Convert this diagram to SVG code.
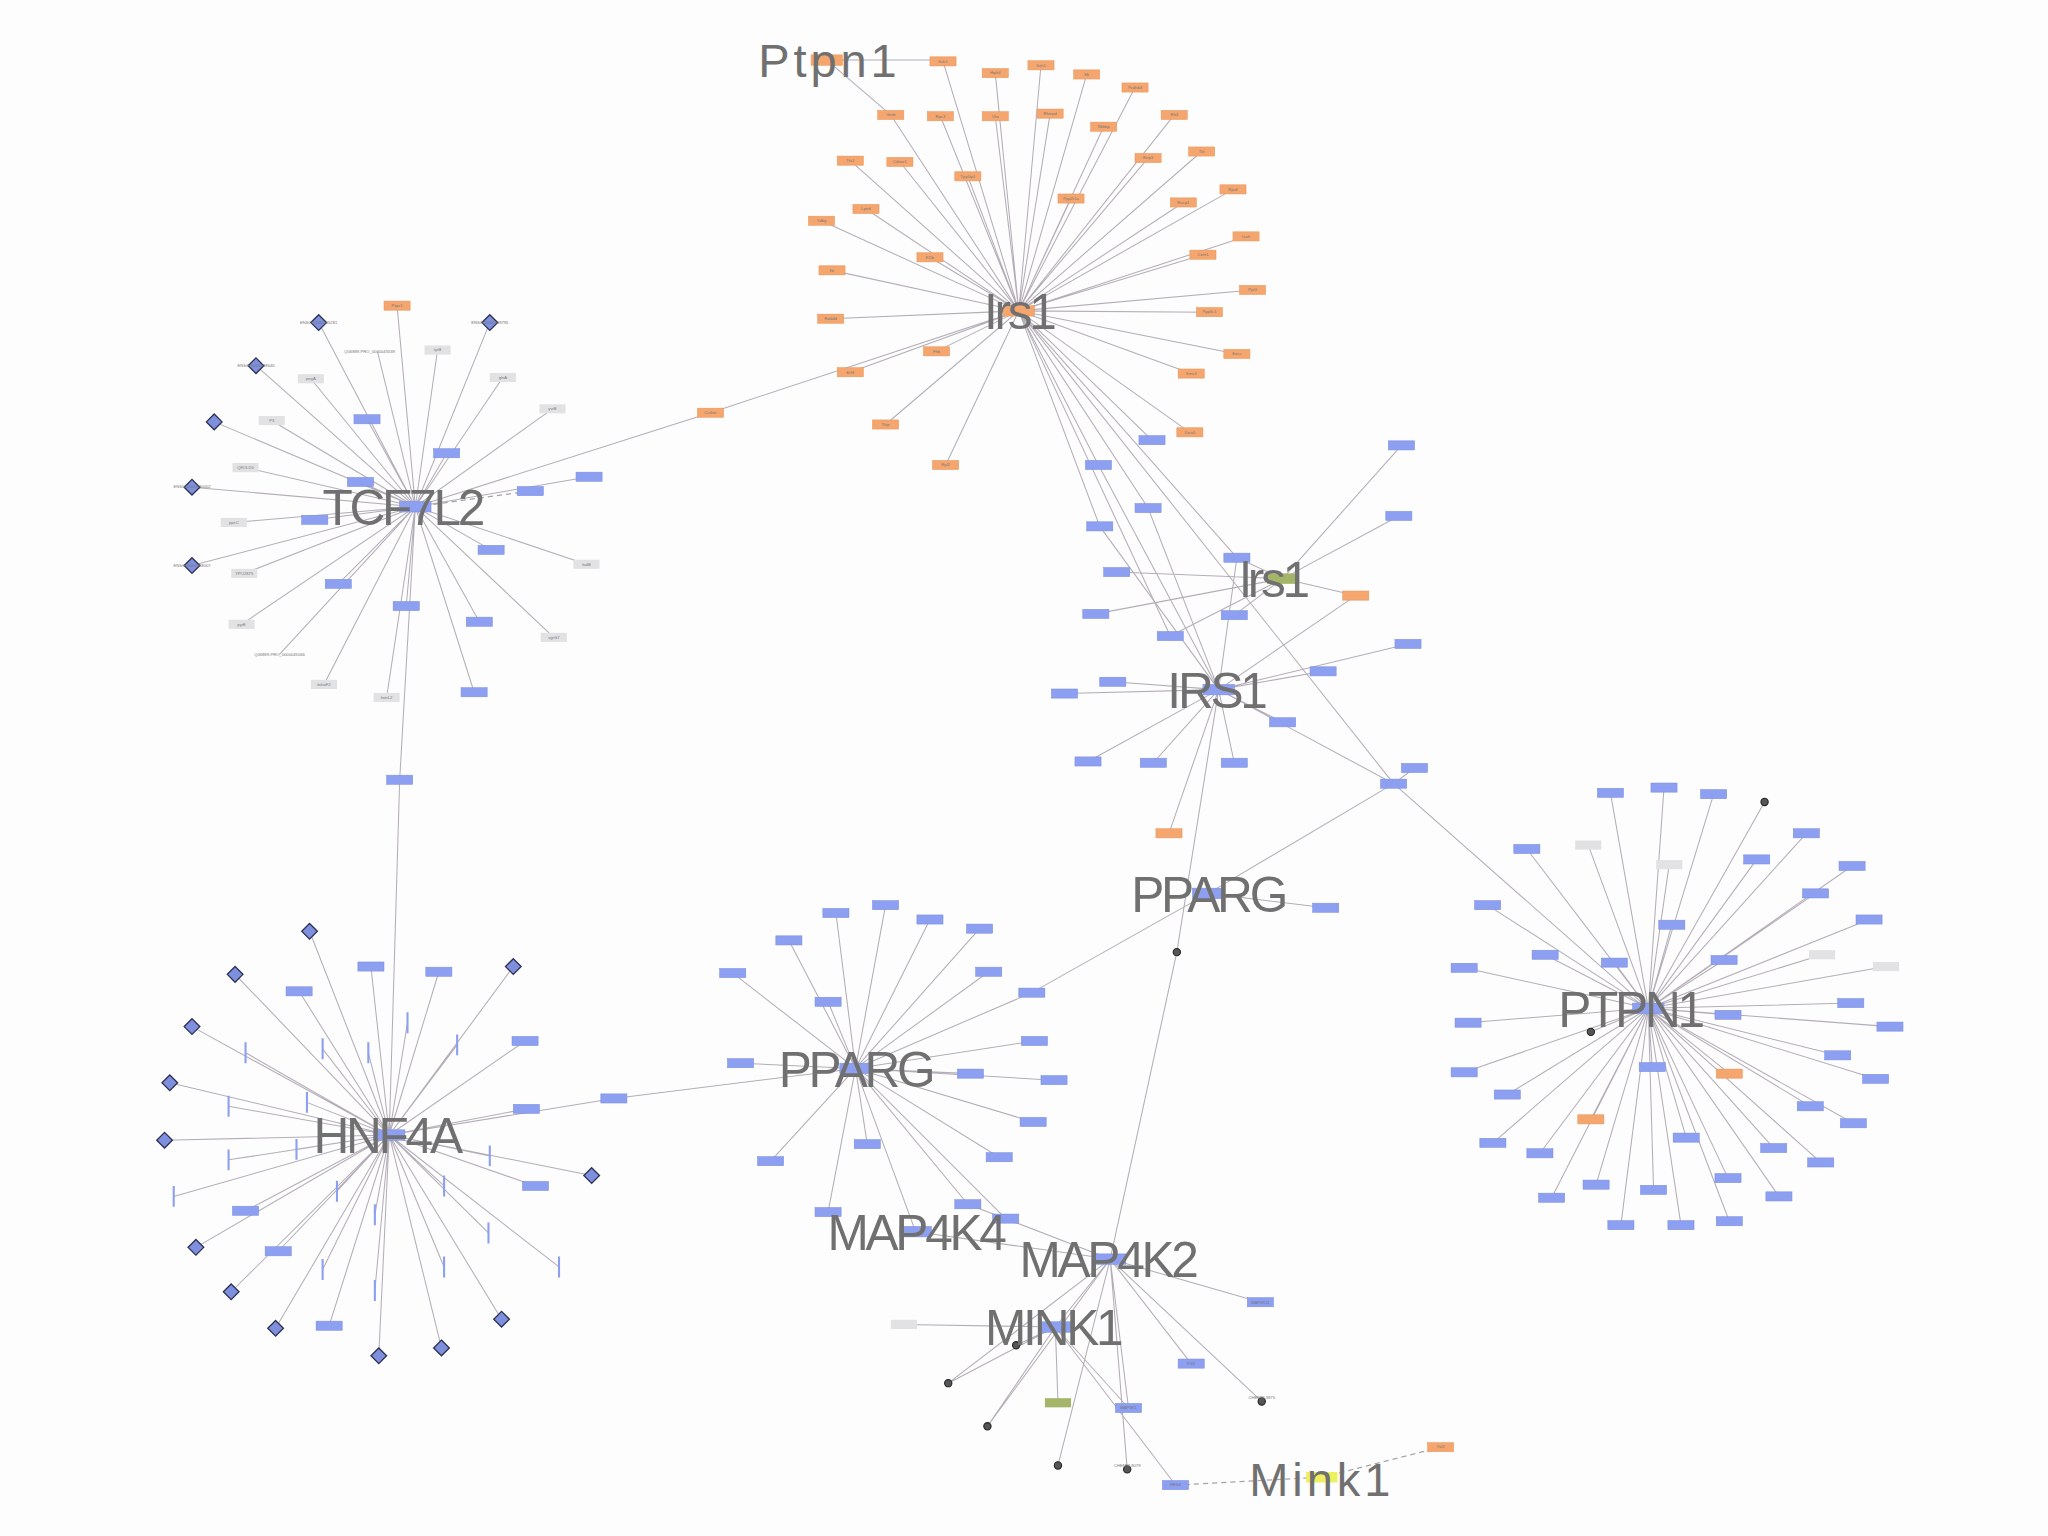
<svg xmlns="http://www.w3.org/2000/svg" width="2048" height="1536" viewBox="0 0 2048 1536">
<style>
.e{stroke:#b4adb8;stroke-width:.8;fill:none}
.d{stroke:#a9a3ad;stroke-width:1;stroke-dasharray:4 3;fill:none}
.o{fill:#f4a66e;stroke:#e8955a;stroke-width:.4}
.b{fill:#8c9ff0;stroke:#7a8ee0;stroke-width:.4}
.g{fill:#e2e2e4}
.gr{fill:#a4b468}
.v{stroke:#8c9ff0;stroke-width:1.6}
.dm{fill:#7e8fde;stroke:#2c3050;stroke-width:1}
.c{fill:#555;stroke:#222;stroke-width:.8}
text{font-family:"Liberation Sans",Arial,sans-serif;fill:#777}
.s{font-size:3.2px;text-anchor:middle}
.h{font-size:38px;text-anchor:middle;fill:#707070;letter-spacing:-2.5px}
.hw{font-size:36px;text-anchor:middle;fill:#707070;letter-spacing:3px}
</style>
<rect width="2048" height="1536" fill="#fdfdfd"/>
<g transform="scale(1.30612)">
<g id="connectors">
<path class="e" d="M633 46H722M633 46L682 88"/>
<path class="e" d="M780 238L722 47M780 238L762 56M780 238L797 50M780 238L832 57M780 238L869 67M780 238L899 88M780 238L920 116M780 238L944 145M780 238L954 181M780 238L959 222M780 238L926 239M780 238L947 271M780 238L912 286M780 238L911 331M780 238L682 88M780 238L720 89M780 238L762 89M780 238L804 87M780 238L845 97M780 238L879 121M780 238L906 155M780 238L921 195M780 238L820 152M780 238L741 135M780 238L689 124M780 238L651 123M780 238L663 160M780 238L629 169M780 238L712 197M780 238L637 207M780 238L636 244M780 238L717 269M780 238L651 285M780 238L678 325M780 238L724 356M780 238L544 316M780 238L882 337M780 238L841 356M780 238L879 389M780 238L842 403M780 238L947 427M780 238L1067 600M780 238L896 487"/>
<path class="e" d="M544 316L318 388M318 388L244 247M318 388L375 247M318 388L196 280M318 388L164 323M318 388L147 373M318 388L147 433M318 388L289 269M318 388L335 268M318 388L385 289M318 388L238 290M318 388L208 322M318 388L423 313M318 388L188 358M318 388L179 400M318 388L187 439M318 388L185 478M318 388L214 501M318 388L248 524M318 388L296 534M318 388L449 432M318 388L424 488M318 388L304 234M318 388L281 321M318 388L342 347M318 388L276 369M318 388L451 365M318 388L241 398M318 388L376 421M318 388L259 447M318 388L311 464M318 388L367 476M318 388L363 530M318 388L306 597L298 869"/>
<path class="d" d="M318 388L406 376"/>
<path class="e" d="M982 443L1073 341M982 443L1071 395M982 443L947 427M982 443L855 438M982 443L839 470M982 443L896 487M982 443L945 471M982 443L1038 456M933 528L852 522M933 528L815 531M933 528L1013 514M933 528L1078 493M933 528L982 553M933 528L833 583M933 528L883 584M933 528L945 584M933 528L895 638M933 528L1067 600M933 528L841 356M933 528L879 389M933 528L842 403M933 528L947 427M933 528L1038 456M1067 600L1083 588M1067 600L1262 772M1067 600L925 684L790 760L655 818M925 684L1015 695M933 528L901 729L850 964"/>
<path class="e" d="M1262 772L1233 607M1262 772L1274 603M1262 772L1312 608M1262 772L1351 614M1262 772L1383 638M1262 772L1345 658M1262 772L1418 663M1262 772L1390 684M1262 772L1431 704M1262 772L1169 650M1262 772L1216 647M1262 772L1278 662M1262 772L1139 693M1262 772L1280 708M1262 772L1183 731M1262 772L1236 737M1262 772L1320 735M1262 772L1395 731M1262 772L1444 740M1262 772L1121 741M1262 772L1323 777M1262 772L1417 768M1262 772L1447 786M1262 772L1124 783M1262 772L1218 790M1262 772L1407 808M1262 772L1121 821M1262 772L1154 838M1262 772L1265 817M1262 772L1324 822M1262 772L1436 826M1262 772L1386 847M1262 772L1419 860M1262 772L1143 875M1262 772L1179 883M1262 772L1218 857M1262 772L1291 871M1262 772L1358 879M1262 772L1394 890M1262 772L1323 902M1262 772L1222 907M1262 772L1266 911M1262 772L1188 917M1262 772L1362 916M1262 772L1241 938M1262 772L1287 938M1262 772L1324 935"/>
<path class="e" d="M298 869L237 713M298 869L180 746M298 869L147 786M298 869L130 829M298 869L126 873M298 869L150 955M298 869L177 989M298 869L211 1017M298 869L290 1038M298 869L338 1032M298 869L384 1010M298 869L453 900M298 869L393 740M298 869L284 740M298 869L229 759M298 869L336 744M298 869L402 797M298 869L403 849M298 869L410 908M298 869L188 927M298 869L213 958M298 869L252 1015M298 869L470 841L655 818M298 869L312 783M298 869L282 806M298 869L247 803M298 869L188 806M298 869L350 800M298 869L235 844M298 869L175 847M298 869L227 880M298 869L175 888M298 869L133 916M298 869L258 912M298 869L287 930M298 869L340 908M298 869L375 885M298 869L374 944M298 869L340 970M298 869L287 988M298 869L247 972M298 869L428 970"/>
<path class="e" d="M655 818L640 699M655 818L678 693M655 818L712 704M655 818L750 711M655 818L604 720M655 818L561 745M655 818L634 767M655 818L757 744M655 818L792 797M655 818L567 814M655 818L743 822M655 818L807 827M655 818L791 859M655 818L765 886M655 818L590 889M655 818L664 876M655 818L634 928M655 818L741 922M655 818L770 933M655 818L701 943M701 943L850 964"/>
<path class="e" d="M850 964L965 997M850 964L912 1044M850 964L966 1073M850 964L864 1078M850 964L863 1125M808 1016L900 1137M850 964L810 1122M850 964L770 933M850 964L741 922M850 964L808 1016M808 1016L692 1014M808 1016L778 1030M808 1016L726 1059M808 1016L756 1092M808 1016L810 1074M808 1016L864 1078M850 964L756 1092M850 964L726 1059"/>
<path class="d" d="M900 1137L1012 1131L1103 1108"/>
</g>
<g id="leaves">
<g class="o"><rect x="712" y="43.5" width="20" height="7"/><rect x="752" y="52.5" width="20" height="7"/><rect x="787" y="46.5" width="20" height="7"/><rect x="822" y="53.5" width="20" height="7"/><rect x="859" y="63.5" width="20" height="7"/><rect x="889" y="84.5" width="20" height="7"/><rect x="910" y="112.5" width="20" height="7"/><rect x="934" y="141.5" width="20" height="7"/><rect x="944" y="177.5" width="20" height="7"/><rect x="949" y="218.5" width="20" height="7"/><rect x="916" y="235.5" width="20" height="7"/><rect x="937" y="267.5" width="20" height="7"/><rect x="902" y="282.5" width="20" height="7"/><rect x="901" y="327.5" width="20" height="7"/><rect x="672" y="84.5" width="20" height="7"/><rect x="710" y="85.5" width="20" height="7"/><rect x="752" y="85.5" width="20" height="7"/><rect x="794" y="83.5" width="20" height="7"/><rect x="835" y="93.5" width="20" height="7"/><rect x="869" y="117.5" width="20" height="7"/><rect x="896" y="151.5" width="20" height="7"/><rect x="911" y="191.5" width="20" height="7"/><rect x="810" y="148.5" width="20" height="7"/><rect x="731" y="131.5" width="20" height="7"/><rect x="679" y="120.5" width="20" height="7"/><rect x="641" y="119.5" width="20" height="7"/><rect x="653" y="156.5" width="20" height="7"/><rect x="619" y="165.5" width="20" height="7"/><rect x="702" y="193.5" width="20" height="7"/><rect x="627" y="203.5" width="20" height="7"/><rect x="626" y="240.5" width="20" height="7"/><rect x="707" y="265.5" width="20" height="7"/><rect x="641" y="281.5" width="20" height="7"/><rect x="668" y="321.5" width="20" height="7"/><rect x="714" y="352.5" width="20" height="7"/><rect x="534" y="312.5" width="20" height="7"/><rect x="294" y="230.5" width="20" height="7"/><rect x="1028" y="452.5" width="20" height="7"/><rect x="885" y="634.5" width="20" height="7"/><rect x="1314" y="818.5" width="20" height="7"/><rect x="1208" y="853.5" width="20" height="7"/><rect x="1093" y="1104.5" width="20" height="7"/></g>
<g class="g"><rect x="325" y="264.5" width="20" height="7"/><rect x="375" y="285.5" width="20" height="7"/><rect x="228" y="286.5" width="20" height="7"/><rect x="198" y="318.5" width="20" height="7"/><rect x="413" y="309.5" width="20" height="7"/><rect x="178" y="354.5" width="20" height="7"/><rect x="169" y="396.5" width="20" height="7"/><rect x="177" y="435.5" width="20" height="7"/><rect x="175" y="474.5" width="20" height="7"/><rect x="238" y="520.5" width="20" height="7"/><rect x="286" y="530.5" width="20" height="7"/><rect x="439" y="428.5" width="20" height="7"/><rect x="414" y="484.5" width="20" height="7"/><rect x="1206" y="643.5" width="20" height="7"/><rect x="1268" y="658.5" width="20" height="7"/><rect x="1385" y="727.5" width="20" height="7"/><rect x="1434" y="736.5" width="20" height="7"/><rect x="682" y="1010.5" width="20" height="7"/></g>
<g class="b"><rect x="872" y="333.5" width="20" height="7"/><rect x="831" y="352.5" width="20" height="7"/><rect x="869" y="385.5" width="20" height="7"/><rect x="832" y="399.5" width="20" height="7"/><rect x="271" y="317.5" width="20" height="7"/><rect x="332" y="343.5" width="20" height="7"/><rect x="266" y="365.5" width="20" height="7"/><rect x="396" y="372.5" width="20" height="7"/><rect x="441" y="361.5" width="20" height="7"/><rect x="231" y="394.5" width="20" height="7"/><rect x="366" y="417.5" width="20" height="7"/><rect x="249" y="443.5" width="20" height="7"/><rect x="301" y="460.5" width="20" height="7"/><rect x="357" y="472.5" width="20" height="7"/><rect x="353" y="526.5" width="20" height="7"/><rect x="296" y="593.5" width="20" height="7"/><rect x="1063" y="337.5" width="20" height="7"/><rect x="1061" y="391.5" width="20" height="7"/><rect x="937" y="423.5" width="20" height="7"/><rect x="845" y="434.5" width="20" height="7"/><rect x="829" y="466.5" width="20" height="7"/><rect x="886" y="483.5" width="20" height="7"/><rect x="935" y="467.5" width="20" height="7"/><rect x="842" y="518.5" width="20" height="7"/><rect x="805" y="527.5" width="20" height="7"/><rect x="1003" y="510.5" width="20" height="7"/><rect x="1068" y="489.5" width="20" height="7"/><rect x="972" y="549.5" width="20" height="7"/><rect x="823" y="579.5" width="20" height="7"/><rect x="873" y="580.5" width="20" height="7"/><rect x="935" y="580.5" width="20" height="7"/><rect x="1057" y="596.5" width="20" height="7"/><rect x="1073" y="584.5" width="20" height="7"/><rect x="1005" y="691.5" width="20" height="7"/><rect x="780" y="756.5" width="20" height="7"/>
<rect x="1223" y="603.5" width="20" height="7"/><rect x="1264" y="599.5" width="20" height="7"/><rect x="1302" y="604.5" width="20" height="7"/><rect x="1373" y="634.5" width="20" height="7"/><rect x="1335" y="654.5" width="20" height="7"/><rect x="1408" y="659.5" width="20" height="7"/><rect x="1380" y="680.5" width="20" height="7"/><rect x="1421" y="700.5" width="20" height="7"/><rect x="1159" y="646.5" width="20" height="7"/><rect x="1129" y="689.5" width="20" height="7"/><rect x="1270" y="704.5" width="20" height="7"/><rect x="1173" y="727.5" width="20" height="7"/><rect x="1226" y="733.5" width="20" height="7"/><rect x="1310" y="731.5" width="20" height="7"/><rect x="1111" y="737.5" width="20" height="7"/><rect x="1313" y="773.5" width="20" height="7"/><rect x="1407" y="764.5" width="20" height="7"/><rect x="1437" y="782.5" width="20" height="7"/><rect x="1114" y="779.5" width="20" height="7"/><rect x="1397" y="804.5" width="20" height="7"/><rect x="1111" y="817.5" width="20" height="7"/><rect x="1144" y="834.5" width="20" height="7"/><rect x="1255" y="813.5" width="20" height="7"/><rect x="1426" y="822.5" width="20" height="7"/><rect x="1376" y="843.5" width="20" height="7"/><rect x="1409" y="856.5" width="20" height="7"/><rect x="1133" y="871.5" width="20" height="7"/><rect x="1169" y="879.5" width="20" height="7"/><rect x="1281" y="867.5" width="20" height="7"/><rect x="1348" y="875.5" width="20" height="7"/><rect x="1384" y="886.5" width="20" height="7"/><rect x="1313" y="898.5" width="20" height="7"/><rect x="1212" y="903.5" width="20" height="7"/><rect x="1256" y="907.5" width="20" height="7"/><rect x="1178" y="913.5" width="20" height="7"/><rect x="1352" y="912.5" width="20" height="7"/><rect x="1231" y="934.5" width="20" height="7"/><rect x="1277" y="934.5" width="20" height="7"/><rect x="1314" y="931.5" width="20" height="7"/>
<rect x="274" y="736.5" width="20" height="7"/><rect x="219" y="755.5" width="20" height="7"/><rect x="326" y="740.5" width="20" height="7"/><rect x="392" y="793.5" width="20" height="7"/><rect x="393" y="845.5" width="20" height="7"/><rect x="400" y="904.5" width="20" height="7"/><rect x="178" y="923.5" width="20" height="7"/><rect x="203" y="954.5" width="20" height="7"/><rect x="242" y="1011.5" width="20" height="7"/><rect x="460" y="837.5" width="20" height="7"/>
<rect x="630" y="695.5" width="20" height="7"/><rect x="668" y="689.5" width="20" height="7"/><rect x="702" y="700.5" width="20" height="7"/><rect x="740" y="707.5" width="20" height="7"/><rect x="594" y="716.5" width="20" height="7"/><rect x="551" y="741.5" width="20" height="7"/><rect x="624" y="763.5" width="20" height="7"/><rect x="747" y="740.5" width="20" height="7"/><rect x="782" y="793.5" width="20" height="7"/><rect x="557" y="810.5" width="20" height="7"/><rect x="733" y="818.5" width="20" height="7"/><rect x="797" y="823.5" width="20" height="7"/><rect x="781" y="855.5" width="20" height="7"/><rect x="755" y="882.5" width="20" height="7"/><rect x="580" y="885.5" width="20" height="7"/><rect x="654" y="872.5" width="20" height="7"/><rect x="624" y="924.5" width="20" height="7"/><rect x="731" y="918.5" width="20" height="7"/><rect x="760" y="929.5" width="20" height="7"/>
<rect x="955" y="993.5" width="20" height="7"/><rect x="902" y="1040.5" width="20" height="7"/><rect x="854" y="1074.5" width="20" height="7"/><rect x="890" y="1133.5" width="20" height="7"/></g>
<rect class="gr" x="800" y="1070.5" width="20" height="7"/>
<g class="dm"><path d="M244 241l6 6-6 6-6-6z"/><path d="M375 241l6 6-6 6-6-6z"/><path d="M196 274l6 6-6 6-6-6z"/><path d="M164 317l6 6-6 6-6-6z"/><path d="M147 367l6 6-6 6-6-6z"/><path d="M147 427l6 6-6 6-6-6z"/>
<path d="M237 707l6 6-6 6-6-6z"/><path d="M180 740l6 6-6 6-6-6z"/><path d="M147 780l6 6-6 6-6-6z"/><path d="M130 823l6 6-6 6-6-6z"/><path d="M126 867l6 6-6 6-6-6z"/><path d="M150 949l6 6-6 6-6-6z"/><path d="M177 983l6 6-6 6-6-6z"/><path d="M211 1011l6 6-6 6-6-6z"/><path d="M290 1032l6 6-6 6-6-6z"/><path d="M338 1026l6 6-6 6-6-6z"/><path d="M384 1004l6 6-6 6-6-6z"/><path d="M453 894l6 6-6 6-6-6z"/><path d="M393 734l6 6-6 6-6-6z"/></g>
<g class="v"><path d="M312 775v16M282 798v16M247 795v16M188 798v16M350 792v16M235 836v16M175 839v16M227 872v16M175 880v16M133 908v16M258 904v16M287 922v16M340 900v16M375 877v16M374 936v16M340 962v16M287 980v16M247 964v16M428 962v16"/></g>
<g class="c"><circle cx="1351" cy="614" r="2.8"/><circle cx="1218" cy="790" r="2.8"/><circle cx="901" cy="729" r="2.8"/><circle cx="966" cy="1073" r="2.8"/><circle cx="863" cy="1125" r="2.8"/><circle cx="810" cy="1122" r="2.8"/><circle cx="756" cy="1092" r="2.8"/><circle cx="726" cy="1059" r="2.8"/><circle cx="778" cy="1030" r="2.8"/></g>
<g class="s"><text x="722" y="48">Ssh1</text><text x="762" y="57">Hipk4</text><text x="797" y="51">Ssh1</text><text x="832" y="58">Mr</text><text x="869" y="68">Pcdhb3</text><text x="899" y="89">Rh3</text><text x="920" y="117">Tkt</text><text x="944" y="146">Rps6</text><text x="954" y="182">Isoh</text><text x="959" y="223">Ppt3</text><text x="926" y="240">Ppp6c1</text><text x="947" y="272">Eoss</text><text x="912" y="287">Sms3</text><text x="911" y="332">Dtsa5</text><text x="682" y="89">Gnrb</text><text x="720" y="90">Rps3</text><text x="762" y="90">Vhs</text><text x="804" y="88">Rhmpd</text><text x="845" y="98">Nkbbp</text><text x="879" y="122">Rnp3</text><text x="906" y="156">Racp1</text><text x="921" y="196">Cent1</text><text x="820" y="153">Ppp2r1a</text><text x="741" y="136">Tpp3ip1</text><text x="689" y="125">Cdnar1</text><text x="651" y="124">Tfx1</text><text x="663" y="161">Lpnd</text><text x="629" y="170">Ydbg</text><text x="712" y="198">Kl1b</text><text x="637" y="208">Nr</text><text x="636" y="245">Rabdd</text><text x="717" y="270">Fhb</text><text x="651" y="286">Erf3</text><text x="678" y="326">Tlop</text><text x="724" y="357">Rpl2</text><text x="544" y="317">Crsher</text><text x="304" y="235">Ptpn1</text>
<text x="244" y="248">ENSG00000165281</text><text x="375" y="248">ENSG00000138795</text><text x="196" y="281">ENSG00000148646</text><text x="147" y="374">ENSG00000130002</text><text x="147" y="434">ENSG00000168007</text><text x="283" y="270">Q06889-PRO_0000045539</text><text x="335" y="269">tyrB</text><text x="385" y="290">glnA</text><text x="238" y="291">pegA</text><text x="208" y="323">P3</text><text x="423" y="314">yvrB</text><text x="188" y="359">Q8OLD5</text><text x="179" y="401">ppsC</text><text x="187" y="440">YPO2875</text><text x="185" y="479">pyrE</text><text x="214" y="502">Q06889-PRO_0000045066</text><text x="248" y="525">foliaiF2</text><text x="296" y="535">femL2</text><text x="449" y="433">fadB</text><text x="424" y="489">vgrG7</text>
<text x="965" y="998">MAP3K11</text><text x="912" y="1045">PXK</text><text x="864" y="1079">MAP3K1</text><text x="900" y="1138">HES4</text><text x="1103" y="1109">Yaf2</text><text x="966" y="1071">CHEMBL3975</text><text x="863" y="1123">CHEMBL8079</text></g>
</g>
<g id="hubs">
<rect class="o" x="621" y="42" width="24" height="8"/><text class="hw" x="635" y="59">Ptpn1</text>
<rect class="o" x="768" y="234" width="24" height="8"/><text class="h" x="780" y="252">Irs1</text>
<rect class="b" x="306" y="384" width="24" height="8"/><text class="h" x="308" y="402">TCF7L2</text>
<rect class="gr" x="970" y="439" width="24" height="8"/><text class="h" x="975" y="457">lrs1</text>
<rect class="b" x="921" y="524" width="24" height="8"/><text class="h" x="931" y="542">IRS1</text>
<rect class="b" x="913" y="680" width="24" height="8"/><text class="h" x="925" y="698">PPARG</text>
<rect class="b" x="1250" y="768" width="24" height="8"/><text class="h" x="1248" y="786">PTPN1</text>
<rect class="b" x="286" y="865" width="24" height="8"/><text class="h" x="296" y="883">HNF4A</text>
<rect class="b" x="643" y="814" width="24" height="8"/><text class="h" x="655" y="832">PPARG</text>
<rect class="b" x="689" y="939" width="24" height="8"/><text class="h" x="701" y="957">MAP4K4</text>
<rect class="b" x="838" y="960" width="24" height="8"/><text class="h" x="848" y="978">MAP4K2</text>
<rect class="b" x="796" y="1012" width="24" height="8"/><text class="h" x="806" y="1030">MINK1</text>
<rect x="1000" y="1127" width="24" height="8" fill="#eef060"/><text class="hw" x="1012" y="1145">Mink1</text>
</g>
</g>
</svg>
